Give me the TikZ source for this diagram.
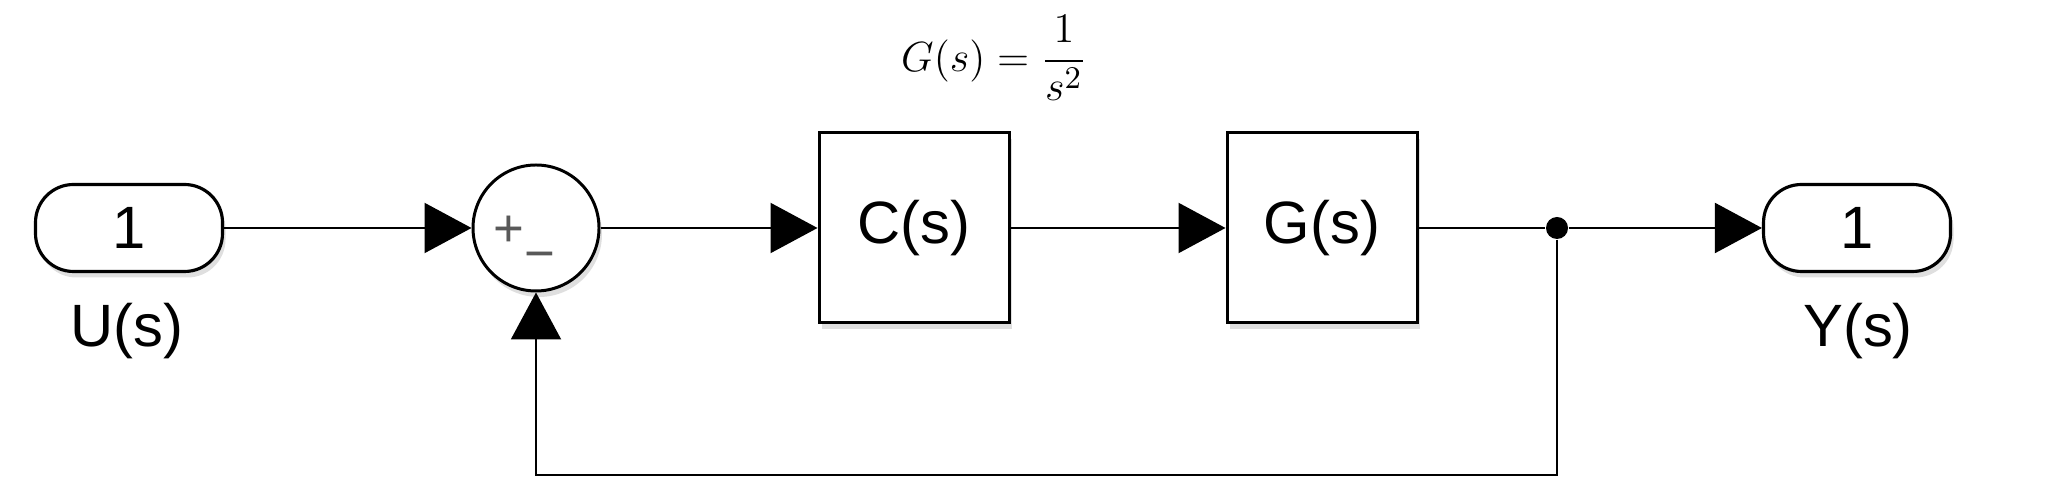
\documentclass[tikz,border=0pt]{standalone}
\usepackage[no-math]{fontspec}
\setmainfont{Liberation Sans}
\usepackage{amsmath}
\usetikzlibrary{arrows.meta,shadows}

\begin{document}
\begin{tikzpicture}[x=0.1mm,y=-0.1mm,
    font=\fontsize{17}{20}\selectfont,
    shade/.style={drop shadow={shadow xshift=0.3mm,shadow yshift=-0.6mm,opacity=0.25}},
    port/.style={draw,line width=0.9pt,rounded corners=3.8mm,minimum width=18.7mm,minimum height=8.7mm,fill=white,shade},
    blk/.style={draw,line width=0.85pt,minimum width=19mm,minimum height=19mm,fill=white,shade},
    sgn/.style={text=black!65,inner sep=0pt,font=\fontsize{15}{15}\selectfont},
    sig/.style={line width=0.6pt,-{Triangle[length=4.7mm,width=5mm]}}]
    \useasboundingbox (0,0) rectangle (2046,503);
    \node[port] (u) at (129,228) {1};
    \node[anchor=base] (ulab) at (127,347) {U(s)};
    \node[circle,draw,line width=0.85pt,minimum size=12.6mm,inner sep=0pt,fill=white,shade] (sum) at (536,228) {};
    \node[sgn] (plus) at (509,231) {+};
    \node[sgn] (minus) at (540,262) {−};
    \node[blk] (c) at (914,228) {C(s)};
    \node[blk] (g) at (1322,228) {G(s)};
    \node[port] (y) at (1857,228) {1};
    \node[anchor=base] (ylab) at (1858,347) {Y(s)};
    \node[font=\fontsize{12.5}{14}\selectfont] (eq) at (994,58) {$G(s)=\dfrac{1}{s^{2}}$};
    \node[circle,fill,inner sep=0pt,minimum size=2.2mm] (br) at (1557,228) {};
    \coordinate (fb) at (1557,475);

    \draw[sig] (u) -- (sum);
    \draw[sig] (sum) -- (c);
    \draw[sig] (c) -- (g);
    \draw[line width=0.6pt] (g) -- (br);
    \draw[sig] (br) -- (y);
    \draw[sig] (br) -- (fb) -| (sum.south);
\end{tikzpicture}
\end{document}
